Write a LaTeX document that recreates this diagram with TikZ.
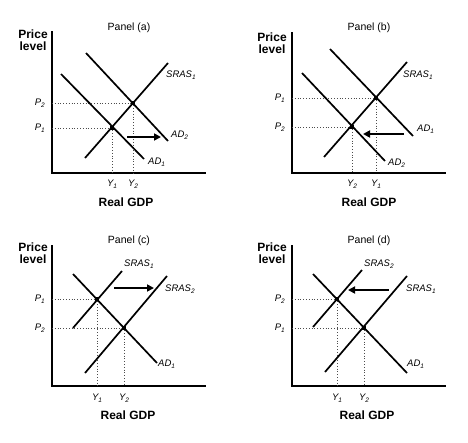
\documentclass[tikz,border=0pt]{standalone}
\usepackage{fontspec}
\setmainfont{Liberation Sans}
\usetikzlibrary{arrows.meta}
\newcommand\subx[1]{\raisebox{-0.4ex}{\fontsize{6.5}{6.5}\selectfont #1}}
\tikzset{
  axis/.style={line width=1.1pt, line cap=rect},
  curve/.style={line width=1.7pt},
  guide/.style={dotted, line width=0.8pt, gray!60!black},
  shiftarrow/.style={line width=1.7pt, -{Triangle[length=7pt,width=7pt]}},
  dotm/.style={fill=black, inner sep=0pt, minimum size=4.5pt, rectangle},
  lab/.style={font=\fontsize{9.5}{11}\selectfont\itshape, inner sep=0pt},
  plab/.style={font=\fontsize{9.5}{11}\selectfont\itshape, inner sep=0pt, anchor=east},
  ylab/.style={font=\fontsize{9.5}{11}\selectfont\itshape, inner sep=0pt},
  ttl/.style={font=\fontsize{10.5}{12}\selectfont, inner sep=0pt},
  axt/.style={font=\fontsize{12}{12.5}\selectfont\bfseries, inner sep=0pt, align=center},
}
\begin{document}
\begin{tikzpicture}[x=1pt,y=-1pt]
\useasboundingbox (0,0) rectangle (468,442);
% ================= Panel (a)
\node[ttl] (a-t) at (129,28) {Panel (a)};
\node[axt] (a-pl) at (33,40) {Price\\level};
\coordinate (a-top) at (52,32); \coordinate (a-o) at (52,173); \coordinate (a-xe) at (205,173);
\draw[axis] (a-top) -- (a-o) -- (a-xe);
\node[dotm] (a-e1) at (112,128) {};
\node[dotm] (a-e2) at (133,103) {};
\node[plab] (a-p1) at (45,128) {P\subx{1}};
\node[plab] (a-p2) at (45,103) {P\subx{2}};
\node[ylab] (a-y1) at (112,184) {Y\subx{1}};
\node[ylab] (a-y2) at (133,184) {Y\subx{2}};
\draw[guide] (a-o |- a-e1) -- (a-e1) -- (a-e1 |- a-o);
\draw[guide] (a-o |- a-e2) -- (a-e2) -- (a-e2 |- a-o);
\coordinate (a-s1a) at (85,158); \coordinate (a-s1b) at (168,63);
\coordinate (a-d1a) at (61,74); \coordinate (a-d1b) at (144,159);
\coordinate (a-d2a) at (86,53); \coordinate (a-d2b) at (168,141);
\draw[curve] (a-s1a) -- (a-s1b);
\draw[curve] (a-d1a) -- (a-d1b);
\draw[curve] (a-d2a) -- (a-d2b);
\node[lab, anchor=west] (a-ls1) at (166,75) {SRAS\subx{1}};
\node[lab, anchor=west] (a-ld2) at (171,135) {AD\subx{2}};
\node[lab, anchor=west] (a-ld1) at (148,162) {AD\subx{1}};
\coordinate (a-ar1) at (127,137); \coordinate (a-ar2) at (161,137);
\draw[shiftarrow] (a-ar1) -- (a-ar2);
\node[axt] (a-x) at (126,202) {Real GDP};
% ================= Panel (b)
\node[ttl] (b-t) at (369,28) {Panel (b)};
\node[axt] (b-pl) at (272,43) {Price\\level};
\coordinate (b-top) at (292,33); \coordinate (b-o) at (292,173); \coordinate (b-xe) at (445,173);
\draw[axis] (b-top) -- (b-o) -- (b-xe);
\node[dotm] (b-e1) at (376,98) {};
\node[dotm] (b-e2) at (352,127) {};
\node[plab] (b-p1) at (285,98) {P\subx{1}};
\node[plab] (b-p2) at (285,127) {P\subx{2}};
\node[ylab] (b-y1) at (376,184) {Y\subx{1}};
\node[ylab] (b-y2) at (352,184) {Y\subx{2}};
\draw[guide] (b-o |- b-e1) -- (b-e1) -- (b-e1 |- b-o);
\draw[guide] (b-o |- b-e2) -- (b-e2) -- (b-e2 |- b-o);
\coordinate (b-s1a) at (324,157); \coordinate (b-s1b) at (407,62);
\coordinate (b-d1a) at (330,49); \coordinate (b-d1b) at (413,136);
\coordinate (b-d2a) at (302,73); \coordinate (b-d2b) at (385,161);
\draw[curve] (b-s1a) -- (b-s1b);
\draw[curve] (b-d1a) -- (b-d1b);
\draw[curve] (b-d2a) -- (b-d2b);
\node[lab, anchor=west] (b-ls1) at (403,75) {SRAS\subx{1}};
\node[lab, anchor=west] (b-ld1) at (417,129) {AD\subx{1}};
\node[lab, anchor=west] (b-ld2) at (388,163) {AD\subx{2}};
\coordinate (b-ar1) at (404,134); \coordinate (b-ar2) at (363,134);
\draw[shiftarrow] (b-ar1) -- (b-ar2);
\node[axt] (b-x) at (369,202) {Real GDP};
% ================= Panel (c)
\node[ttl] (c-t) at (129,241) {Panel (c)};
\node[axt] (c-pl) at (33,253) {Price\\level};
\coordinate (c-top) at (52,246); \coordinate (c-o) at (52,386); \coordinate (c-xe) at (205,386);
\draw[axis] (c-top) -- (c-o) -- (c-xe);
\node[dotm] (c-e1) at (97,299) {};
\node[dotm] (c-e2) at (124,328) {};
\node[plab] (c-p1) at (45,299) {P\subx{1}};
\node[plab] (c-p2) at (45,328) {P\subx{2}};
\node[ylab] (c-y1) at (97,398) {Y\subx{1}};
\node[ylab] (c-y2) at (124,398) {Y\subx{2}};
\draw[guide] (c-o |- c-e1) -- (c-e1) -- (c-e1 |- c-o);
\draw[guide] (c-o |- c-e2) -- (c-e2) -- (c-e2 |- c-o);
\coordinate (c-s1a) at (73,328); \coordinate (c-s1b) at (122,271);
\coordinate (c-s2a) at (85,373); \coordinate (c-s2b) at (167,276);
\coordinate (c-d1a) at (73,274); \coordinate (c-d1b) at (157,363);
\draw[curve] (c-s1a) -- (c-s1b);
\draw[curve] (c-s2a) -- (c-s2b);
\draw[curve] (c-d1a) -- (c-d1b);
\node[lab, anchor=west] (c-ls1) at (124,264) {SRAS\subx{1}};
\node[lab, anchor=west] (c-ls2) at (165,289) {SRAS\subx{2}};
\node[lab, anchor=west] (c-ld1) at (158,364) {AD\subx{1}};
\coordinate (c-ar1) at (114,288); \coordinate (c-ar2) at (154,288);
\draw[shiftarrow] (c-ar1) -- (c-ar2);
\node[axt] (c-x) at (128,415) {Real GDP};
% ================= Panel (d)
\node[ttl] (d-t) at (369,241) {Panel (d)};
\node[axt] (d-pl) at (272,253) {Price\\level};
\coordinate (d-top) at (292,246); \coordinate (d-o) at (292,386); \coordinate (d-xe) at (445,386);
\draw[axis] (d-top) -- (d-o) -- (d-xe);
\node[dotm] (d-e1) at (337,299) {};
\node[dotm] (d-e2) at (364,328) {};
\node[plab] (d-p2) at (285,299) {P\subx{2}};
\node[plab] (d-p1) at (285,328) {P\subx{1}};
\node[ylab] (d-y1) at (337,398) {Y\subx{1}};
\node[ylab] (d-y2) at (364,398) {Y\subx{2}};
\draw[guide] (d-o |- d-e1) -- (d-e1) -- (d-e1 |- d-o);
\draw[guide] (d-o |- d-e2) -- (d-e2) -- (d-e2 |- d-o);
\coordinate (d-s2a) at (313,327); \coordinate (d-s2b) at (362,270);
\coordinate (d-s1a) at (325,372); \coordinate (d-s1b) at (407,276);
\coordinate (d-d1a) at (313,274); \coordinate (d-d1b) at (407,373);
\draw[curve] (d-s2a) -- (d-s2b);
\draw[curve] (d-s1a) -- (d-s1b);
\draw[curve] (d-d1a) -- (d-d1b);
\node[lab, anchor=west] (d-ls2) at (364,264) {SRAS\subx{2}};
\node[lab, anchor=west] (d-ls1) at (406,289) {SRAS\subx{1}};
\node[lab, anchor=west] (d-ld1) at (407,364) {AD\subx{1}};
\coordinate (d-ar1) at (389,290); \coordinate (d-ar2) at (348,290);
\draw[shiftarrow] (d-ar1) -- (d-ar2);
\node[axt] (d-x) at (367,415) {Real GDP};
\end{tikzpicture}
\end{document}
